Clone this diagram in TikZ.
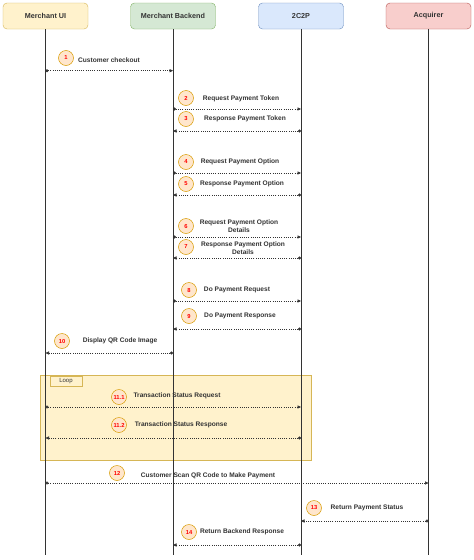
\documentclass[tikz,border=0pt]{standalone}
\usepackage{fontspec}
\setmainfont{Liberation Sans}
\usetikzlibrary{arrows.meta}
\definecolor{txt}{HTML}{333333}
\definecolor{yfill}{HTML}{FFF2CC}\definecolor{ydraw}{HTML}{D6B656}
\definecolor{gfill}{HTML}{D5E8D4}\definecolor{gdraw}{HTML}{82B366}
\definecolor{bfill}{HTML}{DAE8FC}\definecolor{bdraw}{HTML}{6C8EBF}
\definecolor{rfill}{HTML}{F8CECC}\definecolor{rdraw}{HTML}{B85450}
\definecolor{ofill}{HTML}{FFE6CC}\definecolor{odraw}{HTML}{D79B00}
\tikzset{
  header/.style={draw=#1draw, fill=#1fill, rounded corners=4pt, minimum width=85pt, minimum height=26pt, inner sep=0pt, font=\fontsize{7.2}{8}\selectfont\bfseries, text=txt},
  lifeline/.style={draw=txt, line width=0.95pt},
  msgline/.style={draw=txt, line width=0.6pt, dash pattern=on 1pt off 1.2pt, {Circle[length=3pt,width=3pt]}-{Triangle[length=3.5pt,width=3.2pt]}},
  numcirc/.style={circle, draw=odraw, fill=ofill, line width=0.5pt, minimum size=15pt, inner sep=0pt, font=\fontsize{5.8}{6.5}\selectfont\bfseries, text=red},
  msglabel/.style={font=\fontsize{6.6}{7.8}\selectfont\bfseries, text=txt, align=center, inner sep=0pt},
  loopbox/.style={draw=ydraw, fill=yfill, line width=0.6pt},
  looptab/.style={draw=ydraw, fill=yfill, line width=0.5pt, minimum width=32pt, minimum height=10pt, inner sep=0pt, font=\fontsize{6}{7}\selectfont, text=txt}
}
\begin{document}
\begin{tikzpicture}[x=1pt,y=-1pt]
\useasboundingbox (0,0) rectangle (474,560);
\fill[white] (0,0) rectangle (474,560);
% loop frame
\draw[loopbox] (40,375) rectangle (311,460);
\node[looptab] (looplbl) at (66,381) {Loop};
% headers
\node[header=y] (ui) at (45.5,16) {Merchant UI};
\node[header=g] (be) at (173,16) {Merchant Backend};
\node[header=b] (pp) at (301,16) {2C2P};
\node[header=r] (aq) at (428.5,16) {Acquirer};
% lifeline ends
\coordinate (uiE) at (45.5,555);
\coordinate (beE) at (173,555);
\coordinate (ppE) at (301,555);
\coordinate (aqE) at (428.5,555);
\draw[lifeline] (ui.south) -- (uiE);
\draw[lifeline] (be.south) -- (beE);
\draw[lifeline] (pp.south) -- (ppE);
\draw[lifeline] (aq.south) -- (aqE);
% message endpoints
\foreach \n/\y in {1/70.7,2/109,3/131,4/173,5/195,6/237,7/258,8/301,9/329,10/353,111/407,112/438,12/483,13/521,14/545}{
  \coordinate (ui\n) at (45.5,\y);
  \coordinate (be\n) at (173,\y);
  \coordinate (pp\n) at (301,\y);
  \coordinate (aq\n) at (428.5,\y);
}
% messages
\draw[msgline] (ui1) -- (be1);
\draw[msgline] (be2) -- (pp2);
\draw[msgline] (pp3) -- (be3);
\draw[msgline] (be4) -- (pp4);
\draw[msgline] (pp5) -- (be5);
\draw[msgline] (be6) -- (pp6);
\draw[msgline] (pp7) -- (be7);
\draw[msgline] (be8) -- (pp8);
\draw[msgline] (pp9) -- (be9);
\draw[msgline] (be10) -- (ui10);
\draw[msgline] (ui111) -- (pp111);
\draw[msgline] (pp112) -- (ui112);
\draw[msgline] (ui12) -- (aq12);
\draw[msgline] (aq13) -- (pp13);
\draw[msgline] (pp14) -- (be14);
% number circles
\node[numcirc] (c1) at (66,58) {1};
\node[numcirc] (c2) at (186,98) {2};
\node[numcirc] (c3) at (186,119) {3};
\node[numcirc] (c4) at (186,162) {4};
\node[numcirc] (c5) at (186,184) {5};
\node[numcirc] (c6) at (186,226) {6};
\node[numcirc] (c7) at (186,247) {7};
\node[numcirc] (c8) at (189,290) {8};
\node[numcirc] (c9) at (189,316) {9};
\node[numcirc] (c10) at (62,341) {10};
\node[numcirc] (c111) at (119,397) {11.1};
\node[numcirc] (c112) at (119,425) {11.2};
\node[numcirc] (c12) at (117,473) {12};
\node[numcirc] (c13) at (314,508) {13};
\node[numcirc] (c14) at (189,532) {14};
% labels
\node[msglabel] (l1) at (109,60) {Customer checkout};
\node[msglabel] (l2) at (241,99) {Request Payment Token};
\node[msglabel] (l3) at (245,119) {Response Payment Token};
\node[msglabel] (l4) at (240,162) {Request Payment Option};
\node[msglabel] (l5) at (242,184) {Response Payment Option};
\node[msglabel] (l6) at (239,226.5) {Request Payment Option\\Details};
\node[msglabel] (l7) at (243,248) {Response Payment Option\\Details};
\node[msglabel] (l8) at (237,290) {Do Payment Request};
\node[msglabel] (l9) at (240,316) {Do Payment Response};
\node[msglabel] (l10) at (120,341) {Display QR Code Image};
\node[msglabel] (l111) at (177,396) {Transaction Status Request};
\node[msglabel] (l112) at (181,425) {Transaction Status Response};
\node[msglabel] (l12) at (208,476) {Customer Scan QR Code to Make Payment};
\node[msglabel] (l13) at (367,508) {Return Payment Status};
\node[msglabel] (l14) at (242,532) {Return Backend Response};
\end{tikzpicture}
\end{document}
